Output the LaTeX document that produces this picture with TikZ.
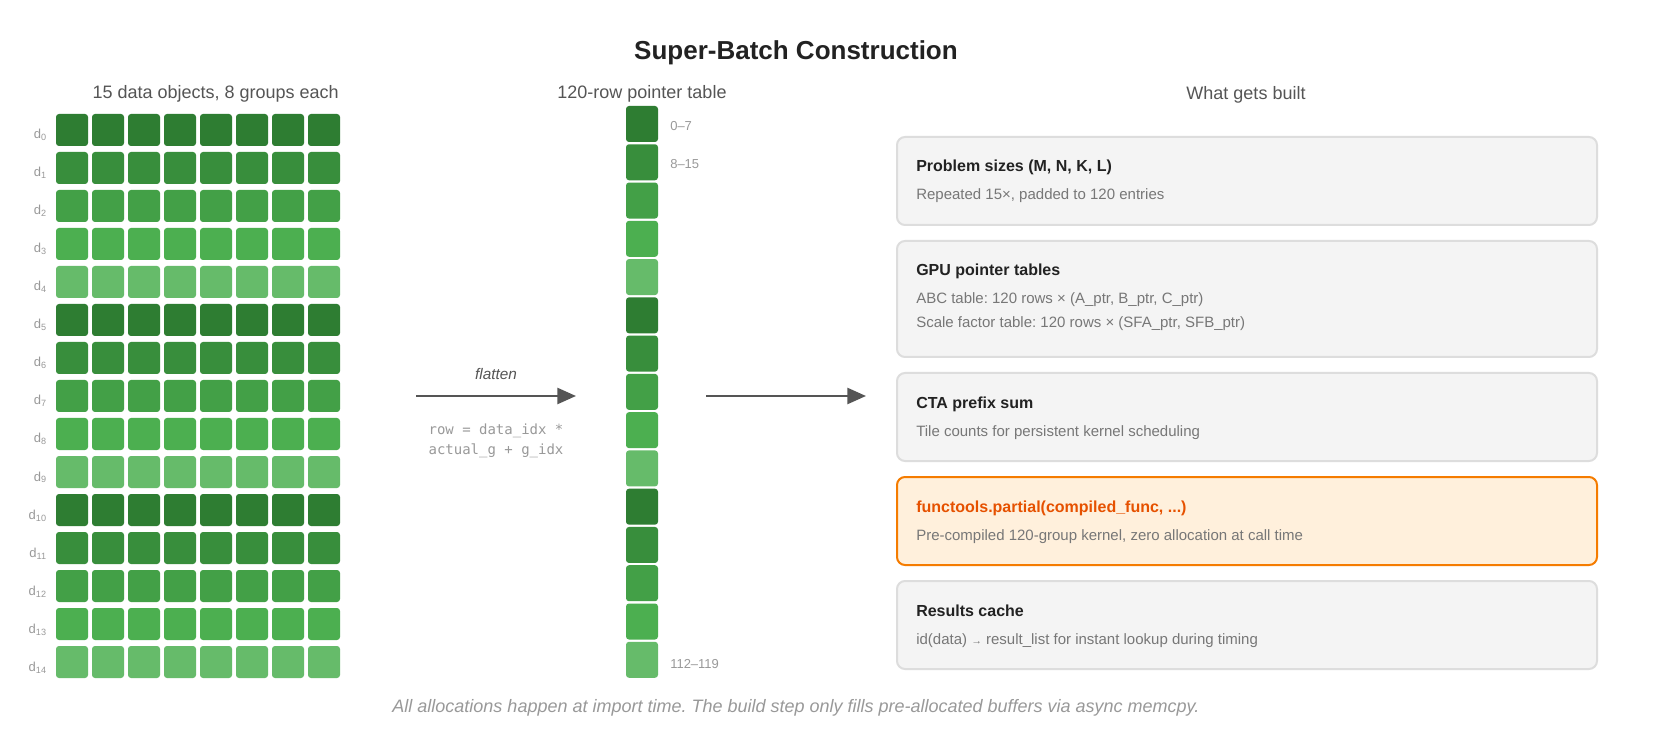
\documentclass[tikz,border=0pt]{standalone}
\usepackage{fontspec}
\setmainfont{Liberation Sans}
\setmonofont{DejaVu Sans Mono}
\usetikzlibrary{arrows.meta}
\frenchspacing

\definecolor{g0}{HTML}{2E7D32}
\definecolor{g1}{HTML}{388E3C}
\definecolor{g2}{HTML}{43A047}
\definecolor{g3}{HTML}{4CAF50}
\definecolor{g4}{HTML}{66BB6A}
\definecolor{inktitle}{HTML}{222222}
\definecolor{inkhead}{HTML}{555555}
\definecolor{inkfaint}{HTML}{999999}
\definecolor{inkdesc}{HTML}{777777}
\definecolor{boxfill}{HTML}{F4F4F4}
\definecolor{boxline}{HTML}{DDDDDD}
\definecolor{hotfill}{HTML}{FFF0DC}
\definecolor{hotline}{HTML}{F57C00}
\definecolor{hottext}{HTML}{E65100}

\tikzset{
  grp/.style={rounded corners=2.25pt, minimum width=24pt, minimum height=24pt, inner sep=0pt},
  ptrcell/.style={rounded corners=2.25pt, minimum width=24pt, minimum height=27pt, inner sep=0pt},
  head/.style={inner sep=0pt, anchor=base, text=inkhead, font=\fontsize{13.5}{16}\selectfont},
  faint/.style={inner sep=0pt, text=inkfaint, font=\fontsize{9.75}{12}\selectfont},
  code/.style={inner sep=0pt, anchor=base, text=inkfaint, font=\ttfamily\fontsize{10.5}{15}\selectfont},
  card/.style={draw=boxline, fill=boxfill, line width=1.5pt, rounded corners=6pt, minimum width=525pt, inner sep=0pt, anchor=north west},
  hotcard/.style={card, draw=hotline, fill=hotfill},
  cardtitle/.style={anchor=base west, inner sep=0pt, text=inktitle, font=\bfseries\fontsize{12}{14}\selectfont},
  carddesc/.style={anchor=base west, inner sep=0pt, text=inkdesc, font=\fontsize{11.25}{13}\selectfont},
  flow/.style={-{Triangle[length=14pt,width=12pt]}, line width=1.9pt, draw=inkhead},
}

\begin{document}
\begin{tikzpicture}[x=0.75pt,y=-0.75pt]

            \useasboundingbox[fill=white] (0,0) rectangle (1672,752);

            \node[anchor=base, text=inktitle, font=\bfseries\fontsize{19.5}{23}\selectfont] (title) at (796,60) {Super-Batch Construction};

            % data objects
            \node[head, anchor=base east] (objhead) at (339,99) {15 data objects, 8 groups each};
            \foreach \r in {0,...,14} {
                \pgfmathtruncatemacro{\k}{mod(\r,5)}
                \node[faint, anchor=base east] (lbl-\r) at (47,139+38*\r) {d\textsubscript{\r}};
                \foreach \c in {0,...,7} {
                    \node[grp, fill=g\k] (cell-\r-\c) at (72+36*\c,130+38*\r) {};
                }
            }

            % flatten arrow
            \coordinate (flat-a) at (416,396);
            \coordinate (flat-b) at (576,396);
            \draw[flow] (flat-a) -- (flat-b);
            \node[anchor=base, inner sep=0pt, text=inkhead, font=\itshape\fontsize{11.5}{14}\selectfont] (flat) at (496,380) {flatten};
            \node[code] (rowcode-a) at (496,435) {row = data\_idx *};
            \node[code] (rowcode-b) at (496,455) {actual\_g + g\_idx};

            % pointer table
            \node[head] (ptrhead) at (642,99) {120-row pointer table};
            \foreach \i in {0,...,14} {
                \pgfmathtruncatemacro{\k}{mod(\i,5)}
                \node[ptrcell, fill=g\k] (ptr-\i) at (642,124+38.27*\i) {};
            }
            \node[faint, anchor=base west] (rng-a) at (670,131) {0--7};
            \node[faint, anchor=base west] (rng-b) at (670,169) {8--15};
            \node[faint, anchor=base west] (rng-c) at (670,668) {112--119};

            % build arrow
            \coordinate (build-a) at (706,396);
            \coordinate (build-b) at (866,396);
            \draw[flow] (build-a) -- (build-b);

            % what gets built
            \node[head] (builthead) at (1246,100) {What gets built};

            \node[card, minimum height=66pt] (box1) at (896,136) {};
            \node[cardtitle] (box1-t) at ([xshift=15pt,yshift=-27pt]box1.north west) {Problem sizes (M, N, K, L)};
            \node[carddesc] (box1-d) at ([xshift=15pt,yshift=-48pt]box1.north west) {Repeated 15×, padded to 120 entries};

            \node[card, minimum height=87pt] (box2) at (896,240) {};
            \node[cardtitle] (box2-t) at ([xshift=15pt,yshift=-27pt]box2.north west) {GPU pointer tables};
            \node[carddesc] (box2-d) at ([xshift=15pt,yshift=-48pt]box2.north west) {ABC table: 120 rows × (A\_ptr, B\_ptr, C\_ptr)};
            \node[carddesc] (box2-e) at ([xshift=15pt,yshift=-66pt]box2.north west) {Scale factor table: 120 rows × (SFA\_ptr, SFB\_ptr)};

            \node[card, minimum height=66pt] (box3) at (896,372) {};
            \node[cardtitle] (box3-t) at ([xshift=15pt,yshift=-27pt]box3.north west) {CTA prefix sum};
            \node[carddesc] (box3-d) at ([xshift=15pt,yshift=-48pt]box3.north west) {Tile counts for persistent kernel scheduling};

            \node[hotcard, minimum height=66pt] (box4) at (896,476) {};
            \node[cardtitle, text=hottext] (box4-t) at ([xshift=15pt,yshift=-27pt]box4.north west) {functools.partial(compiled\_func, ...)};
            \node[carddesc] (box4-d) at ([xshift=15pt,yshift=-48pt]box4.north west) {Pre-compiled 120-group kernel, zero allocation at call time};

            \node[card, minimum height=66pt] (box5) at (896,580) {};
            \node[cardtitle] (box5-t) at ([xshift=15pt,yshift=-27pt]box5.north west) {Results cache};
            \node[carddesc] (box5-d) at ([xshift=15pt,yshift=-48pt]box5.north west) {id(data) {\footnotesize →} result\_list for instant lookup during timing};

            % footnote
            \node[anchor=base, inner sep=0pt, text=inkfaint, font=\itshape\fontsize{13.5}{16}\selectfont] (foot) at (796,712) {All allocations happen at import time. The build step only fills pre-allocated buffers via async memcpy.};

        \end{tikzpicture}
\end{document}
